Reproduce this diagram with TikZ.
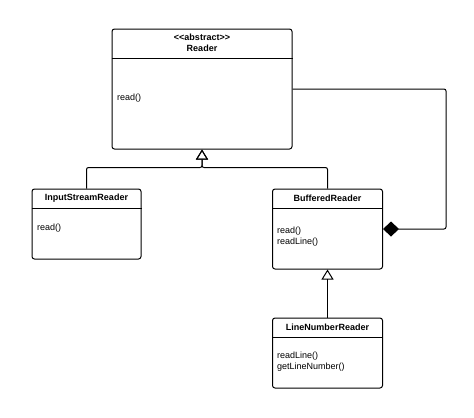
\documentclass[tikz,border=0pt]{standalone}
\usepackage{fontspec}
\setmainfont{Liberation Sans}
\usetikzlibrary{arrows.meta}
\begin{document}
\begin{tikzpicture}[x=1bp,y=-1bp,
  every node/.style={font=\fontsize{9bp}{11bp}\selectfont, inner sep=0pt},
  classbox/.style={draw, line width=1bp, rounded corners=2.5bp, minimum width=#1},
  divider/.style={line width=1bp},
  ttl/.style={font=\fontsize{9bp}{11bp}\selectfont\bfseries},
  meth/.style={anchor=west, align=left},
  gen/.style={line width=1bp, rounded corners=2bp, -{Triangle[open, width=12bp, length=10bp, line width=1bp]}},
  comp/.style={line width=1bp, rounded corners=2bp, -{Diamond[width=15bp, length=16bp]}}
]
\useasboundingbox (0,0) rectangle (474,417);
% boxes
\node[classbox=180bp, minimum height=120bp] (reader) at (202,89) {};
\node[classbox=109bp, minimum height=70bp] (isr) at (86.5,224) {};
\node[classbox=110bp, minimum height=80bp] (br) at (327.5,229) {};
\node[classbox=110bp, minimum height=70bp] (lnr) at (327.5,353) {};
% dividers
\draw[divider] (reader.west |- 0,58) -- (reader.east |- 0,58);
\draw[divider] (isr.west |- 0,208) -- (isr.east |- 0,208);
\draw[divider] (br.west |- 0,208) -- (br.east |- 0,208);
\draw[divider] (lnr.west |- 0,337) -- (lnr.east |- 0,337);
% titles
\node[ttl] (rst) at (202,37.5) {<{}<abstract>{}>};
\node[ttl] (rtt) at (202,48) {Reader};
\node[ttl] (isrt) at (86.5,198.5) {InputStreamReader};
\node[ttl] (brt) at (327.5,198.5) {BufferedReader};
\node[ttl] (lnrt) at (327.5,327.5) {LineNumberReader};
% methods
\node[meth] (rm) at (117,98) {read()};
\node[meth] (isrm) at (37,228) {read()};
\node[meth] (brm) at (277,236.5) {read()\\readLine()};
\node[meth] (lnrm) at (277,362) {readLine()\\getLineNumber()};
% connectors
\draw[gen] (isr.north) -- ++(0,-21) -| (reader.south);
\draw[gen] (br.north) -- ++(0,-21) -| (reader.south);
\draw[gen] (lnr.north) -- (br.south);
\coordinate (c1) at (446,229);
\draw[comp] (reader.east) -| (c1) -- (br.east);
\end{tikzpicture}
\end{document}
